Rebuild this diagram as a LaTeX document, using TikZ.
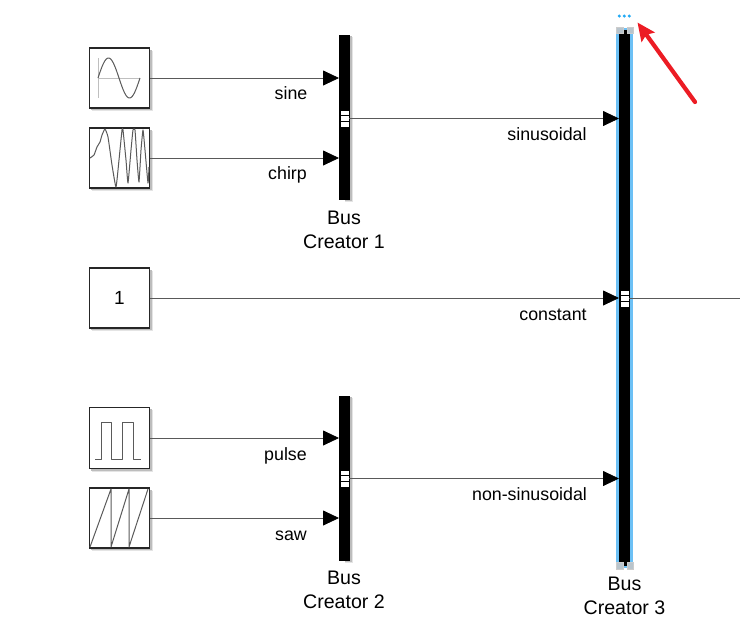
\documentclass[tikz,border=0pt]{standalone}
\usepackage{fontspec}
\setmainfont{Liberation Sans}
\usetikzlibrary{arrows.meta}
\definecolor{selblue}{HTML}{6CC0F5}
\definecolor{dotblue}{HTML}{22AAF5}
\definecolor{arrred}{HTML}{EC1C24}
\definecolor{shadowg}{HTML}{BDBDBD}
\definecolor{shadowl}{HTML}{E4E4E4}
\definecolor{icong}{HTML}{5A5A5A}
\definecolor{handleg}{HTML}{B8C4CC}
\tikzset{
  x=1pt,y=-1pt,
  srcblock/.style={draw=black!85,line width=1.2pt,fill=white,minimum width=60pt,inner sep=0pt,outer sep=0pt},
  busbar/.style={fill=black,minimum width=11pt,inner sep=0pt,outer sep=0pt},
  portbox/.style={fill=white,draw=black,line width=.4pt,minimum width=9.5pt,minimum height=16.5pt,inner sep=0pt,outer sep=0pt},
  wire/.style={draw=black!65,line width=.8pt},
  sig/.style={wire,-{Triangle[length=16pt,width=15pt,color=black]}},
  siglabel/.style={font=\fontsize{17.8}{20}\selectfont,inner sep=0pt,anchor=base},
  buslabel/.style={font=\fontsize{19.6}{24}\selectfont,align=center,inner sep=0pt},
  icon/.style={draw=icong,line width=1pt,line join=round},
  iconaxis/.style={draw=black!25,line width=1pt},
  portline/.style={draw=black,line width=.6pt},
  shadowA/.style={fill=shadowl},
  shadowB/.style={fill=shadowg},
  handle/.style={fill=handleg,draw=black!20,line width=.4pt},
}
\begin{document}
\begin{tikzpicture}
\useasboundingbox (0,0) rectangle (740,625);
% soft shadows
\foreach \xa/\ya/\xb/\yb in {89/48/150/108,89/128/150/188,89/268/150/328,89/407/150/469,89/488/150/548}{
  \fill[shadowA] (\xa+3,\ya+3) rectangle (\xb+3,\yb+3);
  \fill[shadowB] (\xa+2,\ya+2) rectangle (\xb+1.6,\yb+1.6);
}
\foreach \ya/\yb in {35/200,396/561}{
  \fill[shadowA] (345,\ya+2) rectangle (353,\yb+2);
  \fill[shadowB] (345,\ya+1) rectangle (351.5,\yb+1);
}
% bus 3 selection highlight
\fill[selblue] (616,28) rectangle (633,568);
% source blocks
\node[srcblock,minimum height=60pt] (sine) at (119.5,78) {};
\node[srcblock,minimum height=60pt] (chirp) at (119.5,158) {};
\node[srcblock,minimum height=60pt] (const) at (119.5,298) {\fontsize{19}{20}\selectfont 1};
\node[srcblock,minimum height=61pt] (pulse) at (119.5,438) {};
\node[srcblock,minimum height=60pt] (saw) at (119.5,518) {};
% buses
\node[busbar,minimum height=165pt] (bus1) at (344.5,117.5) {};
\node[busbar,minimum height=165pt] (bus2) at (344.5,478.5) {};
\node[busbar,minimum height=536pt] (bus3) at (624.5,298) {};
% ports
\node[portbox] (port1) at (344.5,118.5) {};
\node[portbox] (port2) at (344.5,478.5) {};
\node[portbox] (port3) at (624.5,298.5) {};
\foreach \p in {port1,port2,port3}{
  \draw[portline] ([yshift=2.8pt]\p.center -| \p.west) -- ([yshift=2.8pt]\p.center -| \p.east);
  \draw[portline] ([yshift=-2.8pt]\p.center -| \p.west) -- ([yshift=-2.8pt]\p.center -| \p.east);
}
% bus 3 handles
\draw[handle] (616.5,27.5) rectangle (623,33.5);
\draw[handle] (627,27.5) rectangle (633,33.5);
\draw[handle] (616.5,562.5) rectangle (623,569);
\draw[handle] (627,562.5) rectangle (633,569);
% connectors
\coordinate (outend) at (740,298.5);
\draw[sig] (sine.east) -- (sine.east -| bus1.west);
\draw[sig] (chirp.east) -- (chirp.east -| bus1.west);
\draw[sig] (pulse.east) -- (pulse.east -| bus2.west);
\draw[sig] (saw.east) -- (saw.east -| bus2.west);
\draw[sig] (port1.east) -- (port1.east -| bus3.west);
\draw[sig] (port2.east) -- (port2.east -| bus3.west);
\draw[sig] (const.east) -- (const.east -| bus3.west);
\draw[wire] (port3.east) -- (outend);
% labels
\node[siglabel] (l1) at (291,99) {sine};
\node[siglabel] (l2) at (287.5,179) {chirp};
\node[siglabel] (l3) at (547,140) {sinusoidal};
\node[siglabel] (l4) at (553,320) {constant};
\node[siglabel] (l5) at (285.5,460) {pulse};
\node[siglabel] (l6) at (291,540) {saw};
\node[siglabel] (l7) at (529.5,500) {non-sinusoidal};
\node[buslabel] (b1) at (344,230) {Bus\\Creator 1};
\node[buslabel] (b2) at (344,590) {Bus\\Creator 2};
\node[buslabel] (b3) at (624.5,596) {Bus\\Creator 3};
% icons
\draw[iconaxis] (98,58) -- (98,98) (98,78) -- (140,78);
\draw[icon] plot[smooth,samples=50,domain=0:360] ({98+\x/360*42},{78-20*sin(\x)});
\draw[icon] plot[smooth,tension=.25] coordinates {(90,158) (94,155) (97,147) (100,142) (102,135) (105,129) (108,137) (112,165) (116,187) (119,160) (122,130) (123,130) (126,160) (128,183) (131,150) (133,130) (135,130) (137,160) (139,182) (141,150) (143,130) (145,150) (148,183) (149,167)};
\draw[icon] (95,459) -- (101,459) -- (101,422) -- (111,422) -- (111,459) -- (122,459) -- (122,422) -- (133,422) -- (133,459) -- (141,459);
\draw[icon] (90,547) -- (111,489) -- (111,547) -- (129,489) -- (129,547) -- (148,489);
% ellipsis
\foreach \xx in {619.3,624.3,629.3}{\fill[dotblue] (\xx,16) circle (1.7);}
% red arrow
\draw[arrred,line width=4.2pt,line cap=round,-{Stealth[length=18pt,width=16pt,inset=3pt]}] (695,102) -- (637.5,22.5);
\end{tikzpicture}
\end{document}
